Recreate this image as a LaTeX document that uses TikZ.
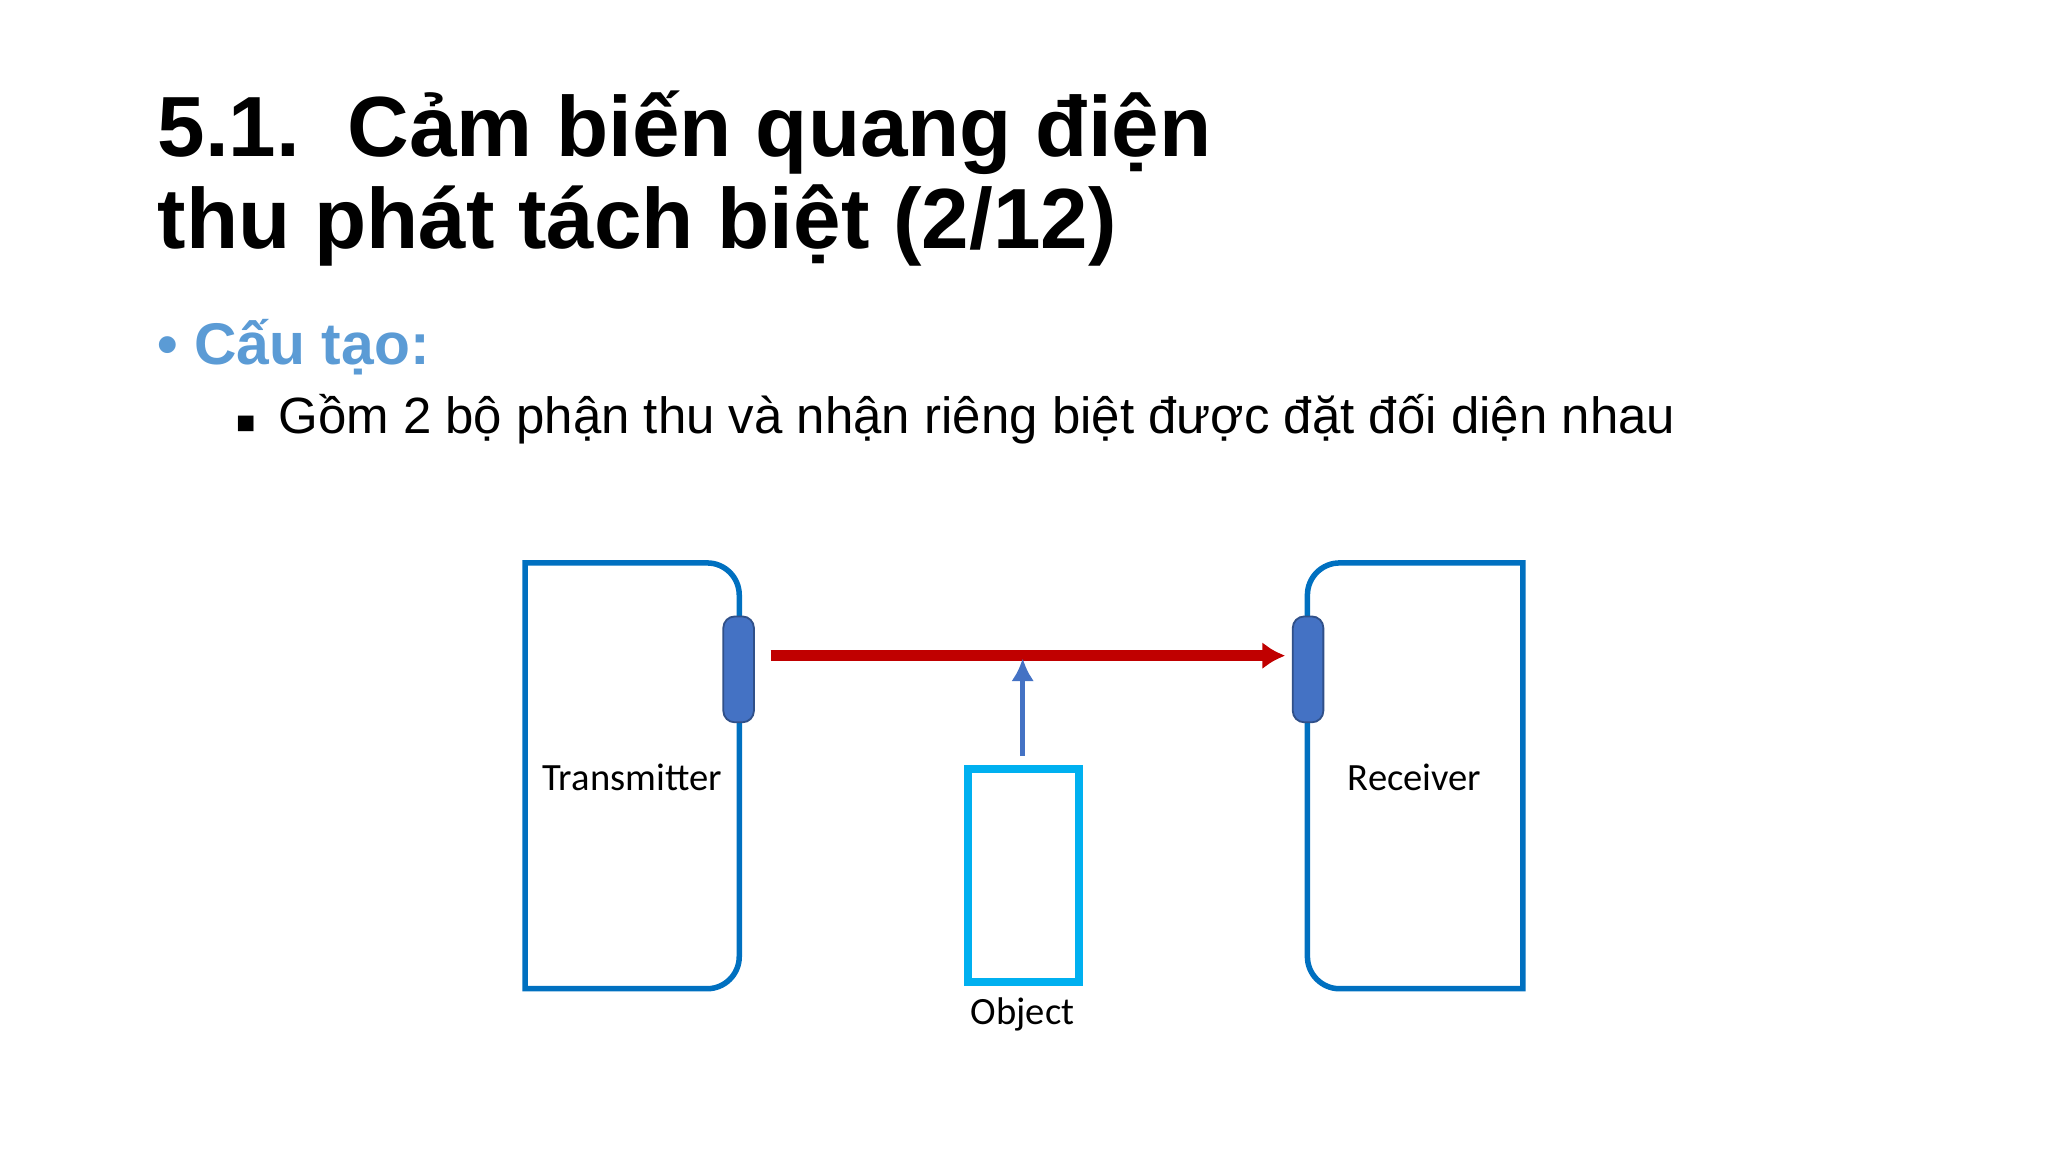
\documentclass[tikz,border=0pt]{standalone}
\usepackage{fontspec}
\usetikzlibrary{arrows.meta}
\setmainfont{Liberation Sans}
\newfontfamily\calfont{Carlito}
\definecolor{boxblue}{RGB}{0,112,192}
\definecolor{lensblue}{RGB}{68,114,196}
\definecolor{objblue}{RGB}{0,176,240}
\definecolor{beamred}{RGB}{192,0,0}
\definecolor{headblue}{RGB}{91,155,213}
\begin{document}
\begin{tikzpicture}[x=0.01cm,y=-0.01cm,
  unit/.style={draw=boxblue,line width=1.2pt},
  lens/.style={draw=lensblue!70!black,fill=lensblue,rounded corners=2.5pt,line width=0.4pt},
  lbl/.style={font=\calfont\fontsize{8.4}{10}\selectfont,inner sep=0pt}]
\useasboundingbox (0,0) rectangle (1568,882);
\node[anchor=base west,inner sep=0pt,font=\bfseries\fontsize{18.6}{22}\selectfont] (t1) at (120,120) {5.1.\ \ Cảm biến quang điện};
\node[anchor=base west,inner sep=0pt,font=\bfseries\fontsize{18.6}{22}\selectfont] (t2) at (120,190) {thu phát tách biệt (2/12)};
\node[anchor=base west,inner sep=0pt,text=headblue,font=\bfseries\fontsize{12.8}{15}\selectfont] (h) at (120,279) {•\ Cấu tạo:};
\node[anchor=base west,inner sep=0pt,font=\fontsize{11.1}{13}\selectfont] (b) at (180,332) {\fontsize{7}{8}\selectfont■\hspace{5pt}\fontsize{11.1}{13}\selectfont Gồm 2 bộ phận thu và nhận riêng biệt được đặt đối diện nhau};
% transmitter
\draw[unit] (402,431) [rounded corners=7pt] -- (566,431) -- (566,757) [sharp corners] -- (402,757) -- cycle;
\node[lbl] (tx) at (484,595) {Transmitter};
\node[lens,minimum width=0.19cm,minimum height=0.81cm] (tl) at (565.5,512.5) {};
% receiver
\draw[unit] (1166,431) [rounded corners=7pt] -- (1001,431) -- (1001,757) [sharp corners] -- (1166,757) -- cycle;
\node[lbl] (rx) at (1083,595) {Receiver};
\node[lens,minimum width=0.19cm,minimum height=0.81cm] (rl) at (1001.5,512.5) {};
% beam
\coordinate (bs) at (590,502);
\coordinate (be) at (984,502);
\draw[beamred,line width=2.3pt,-{Latex[length=5pt,width=6pt]}] (bs) -- (be);
% object
\node[draw=objblue,line width=1.7pt,minimum width=0.85cm,minimum height=1.63cm,inner sep=0pt] (obj) at (783.5,670.5) {};
\node[lbl] (ol) at (783,777) {Object};
\coordinate (oa) at (783,579);
\coordinate (ob) at (783,504);
\draw[lensblue,line width=1.1pt,-{Latex[length=5pt,width=5pt]}] (oa) -- (ob);
\end{tikzpicture}
\end{document}
